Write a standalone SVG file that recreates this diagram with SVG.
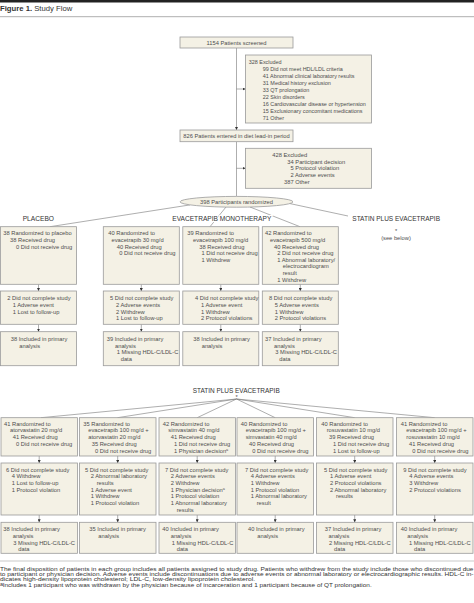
<svg xmlns="http://www.w3.org/2000/svg" width="474" height="603" viewBox="0 0 474 603">
<style>
.box{fill:#f4f1e5;stroke:#9a9a9a;stroke-width:0.8}
.t{font-family:"Liberation Sans",Arial,sans-serif;font-size:5.75px;fill:#4d4d4d}
.s{font-size:5.45px}
.c{text-anchor:middle}
.hd{font-family:"Liberation Sans",Arial,sans-serif;font-size:6.5px;fill:#333}
.halo{stroke:#fff;stroke-width:2.2;paint-order:stroke}
.cap{font-family:"Liberation Sans",Arial,sans-serif;font-size:5.4px;fill:#333}
.conn line{stroke:#777;stroke-width:0.6}
.sup{font-size:3.8px}
</style>
<defs>
<marker id="ar" viewBox="0 0 6 6" markerWidth="3" markerHeight="3" refX="6" refY="3" orient="auto" markerUnits="userSpaceOnUse">
<path d="M0,0 L6,3 L0,6 z" fill="#333"/>
</marker>
</defs>
<rect x="0" y="0" width="474" height="2.5" fill="#222"/>
<text x="0" y="11.2" font-family="'Liberation Sans',Arial,sans-serif" font-size="7.7" fill="#333"><tspan font-weight="bold">Figure 1.</tspan> Study Flow</text>
<line x1="0" y1="16.7" x2="474" y2="16.7" stroke="#999" stroke-width="0.8"/>

<g class="conn">
<line x1="236.5" y1="48" x2="236.5" y2="130" marker-end="url(#ar)"/>
<line x1="236.5" y1="89" x2="245.5" y2="89" marker-end="url(#ar)"/>
<line x1="236.5" y1="141.7" x2="236.5" y2="196.3"/>
<line x1="236.5" y1="168.3" x2="245.5" y2="168.3" marker-end="url(#ar)"/>
<line x1="190" y1="204.9" x2="50" y2="226.7"/>
<line x1="226" y1="207" x2="210" y2="226.7"/>
<line x1="250" y1="207" x2="300" y2="226.7"/>
<line x1="290" y1="203.6" x2="348" y2="216"/>
<line x1="38.5" y1="284.3" x2="38.5" y2="291" marker-end="url(#ar)"/>
<line x1="141.3" y1="284.3" x2="141.3" y2="291" marker-end="url(#ar)"/>
<line x1="220.8" y1="284.3" x2="220.8" y2="291" marker-end="url(#ar)"/>
<line x1="300.3" y1="284.3" x2="300.3" y2="291" marker-end="url(#ar)"/>
<line x1="38.5" y1="324.3" x2="38.5" y2="331.7" marker-end="url(#ar)"/>
<line x1="141.3" y1="324.3" x2="141.3" y2="331.7" marker-end="url(#ar)"/>
<line x1="220.8" y1="324.3" x2="220.8" y2="331.7" marker-end="url(#ar)"/>
<line x1="300.3" y1="324.3" x2="300.3" y2="331.7" marker-end="url(#ar)"/>
<line x1="236.5" y1="399" x2="41" y2="417.7"/>
<line x1="236.5" y1="399" x2="117.5" y2="417.7"/>
<line x1="236.5" y1="399" x2="197.2" y2="417.7"/>
<line x1="236.5" y1="399" x2="275.2" y2="417.7"/>
<line x1="236.5" y1="399" x2="354.7" y2="417.7"/>
<line x1="236.5" y1="399" x2="434.7" y2="417.7"/>
<line x1="39.2" y1="456" x2="39.2" y2="463" marker-end="url(#ar)"/>
<line x1="117.7" y1="456" x2="117.7" y2="463" marker-end="url(#ar)"/>
<line x1="197.2" y1="456" x2="197.2" y2="463" marker-end="url(#ar)"/>
<line x1="275.2" y1="456" x2="275.2" y2="463" marker-end="url(#ar)"/>
<line x1="354.7" y1="456" x2="354.7" y2="463" marker-end="url(#ar)"/>
<line x1="434.7" y1="456" x2="434.7" y2="463" marker-end="url(#ar)"/>
<line x1="39.2" y1="515" x2="39.2" y2="522.3" marker-end="url(#ar)"/>
<line x1="117.7" y1="515" x2="117.7" y2="522.3" marker-end="url(#ar)"/>
<line x1="197.2" y1="515" x2="197.2" y2="522.3" marker-end="url(#ar)"/>
<line x1="275.2" y1="515" x2="275.2" y2="522.3" marker-end="url(#ar)"/>
<line x1="354.7" y1="515" x2="354.7" y2="522.3" marker-end="url(#ar)"/>
<line x1="434.7" y1="515" x2="434.7" y2="522.3" marker-end="url(#ar)"/>
</g>

<g id="screened">
<rect class="box" x="180" y="37" width="113" height="11"/>
<text class="t c" x="236.5" y="44.6">1154 Patients screened</text>
</g>
<g id="excluded1">
<rect class="box" x="245.5" y="55" width="126" height="68"/>
<text class="t s" x="248.7" y="63.5">328 Excluded</text>
<text class="t s" x="262.8" y="70.5">99 Did not meet HDL/LDL criteria</text>
<text class="t s" x="262.8" y="77.5">41 Abnormal clinical laboratory results</text>
<text class="t s" x="262.8" y="84.5">31 Medical history exclusion</text>
<text class="t s" x="262.8" y="91.5">33 QT prolongation</text>
<text class="t s" x="262.8" y="98.5">22 Skin disorders</text>
<text class="t s" x="262.8" y="105.5">16 Cardiovascular disease or hypertension</text>
<text class="t s" x="262.8" y="112.5">15 Exclusionary concomitant medications</text>
<text class="t s" x="262.8" y="119.5">71 Other</text>
</g>
<g id="leadin">
<rect class="box" x="180" y="130" width="113" height="11.7"/>
<text class="t c" x="236.5" y="138">826 Patients entered in diet lead-in period</text>
</g>
<g id="excluded2">
<rect class="box" x="245.5" y="148.3" width="126" height="40"/>
<text class="t" x="272.3" y="157">428 Excluded</text>
<text class="t" x="287.3" y="163.7">34 Participant decision</text>
<text class="t" x="290.5" y="170.3">5 Protocol violation</text>
<text class="t" x="290.5" y="177">2 Adverse events</text>
<text class="t" x="284" y="183.7">387 Other</text>
</g>
<g id="randomized">
<ellipse class="box" cx="236.5" cy="201.8" rx="56.5" ry="5.4"/>
<text class="t c" x="236.5" y="204">398 Participants randomized</text>
</g>

<g id="labels">
<text class="hd halo" x="22.7" y="220.6" textLength="31.3" lengthAdjust="spacingAndGlyphs">PLACEBO</text>
<text class="hd halo" x="172.3" y="220.6" textLength="99" lengthAdjust="spacingAndGlyphs">EVACETRAPIB MONOTHERAPY</text>
<text class="hd" x="352.3" y="220.6" textLength="87.7" lengthAdjust="spacingAndGlyphs">STATIN PLUS EVACETRAPIB</text>
<text class="t c" x="396" y="232.8" font-size="6">*</text>
<text class="t c" x="396" y="240.3">(see below)</text>
<text class="hd" x="192.7" y="393" textLength="87" lengthAdjust="spacingAndGlyphs">STATIN PLUS EVACETRAPIB</text>
<text class="t c" x="236.5" y="399.4" font-size="6">*</text>
</g>

<g id="placebo">
<rect class="box" x="0.5" y="226.7" width="76" height="57.6"/>
<text class="t" x="3.3" y="235.3">38 Randomized to placebo</text>
<text class="t" x="10" y="241.9">38 Received drug</text>
<text class="t" x="16" y="248.5">0 Did not receive drug</text>
</g>
<g id="evac30">
<rect class="box" x="103.3" y="226.7" width="76" height="57.6"/>
<text class="t" x="108.3" y="235.3">40 Randomized to</text>
<text class="t" x="111.5" y="241.9">evacetrapib 30 mg/d</text>
<text class="t" x="116.7" y="248.5">40 Received drug</text>
<text class="t" x="119.3" y="255.1">0 Did not receive drug</text>
</g>
<g id="evac100">
<rect class="box" x="182.8" y="226.7" width="76" height="57.6"/>
<text class="t" x="187.3" y="235.3">39 Randomized to</text>
<text class="t" x="193" y="241.9">evacetrapib 100 mg/d</text>
<text class="t" x="199.3" y="248.5">38 Received drug</text>
<text class="t" x="201.5" y="255.1">1 Did not receive drug</text>
<text class="t" x="201.5" y="261.7">1 Withdrew</text>
</g>
<g id="evac500">
<rect class="box" x="262.3" y="226.7" width="76" height="57.6"/>
<text class="t" x="265" y="235.3">42 Randomized to</text>
<text class="t" x="270" y="241.9">evacetrapib 500 mg/d</text>
<text class="t" x="274" y="248.5">40 Received drug</text>
<text class="t" x="277.3" y="255.1">2 Did not receive drug</text>
<text class="t" x="277.3" y="261.7">1 Abnormal laboratory/</text>
<text class="t" x="282.7" y="268.3">electrocardiogram</text>
<text class="t" x="282.7" y="274.9">result</text>
<text class="t" x="277.3" y="281.5">1 Withdrew</text>
</g>

<g id="placebo-complete">
<rect class="box" x="0.5" y="291" width="76" height="33.3"/>
<text class="t" x="7.3" y="300.3">2 Did not complete study</text>
<text class="t" x="12.7" y="307">1 Adverse event</text>
<text class="t" x="12.7" y="313.7">1 Lost to follow-up</text>
</g>
<g id="evac30-complete">
<rect class="box" x="103.3" y="291" width="76" height="33.3"/>
<text class="t" x="110" y="300.3">5 Did not complete study</text>
<text class="t" x="116" y="307">2 Adverse events</text>
<text class="t" x="116" y="313.7">2 Withdrew</text>
<text class="t" x="116" y="320.3">1 Lost to follow-up</text>
</g>
<g id="evac100-complete">
<rect class="box" x="182.8" y="291" width="76" height="33.3"/>
<text class="t" x="195" y="300.3">4 Did not complete study</text>
<text class="t" x="201" y="307">1 Adverse event</text>
<text class="t" x="201" y="313.7">1 Withdrew</text>
<text class="t" x="201" y="320.3">2 Protocol violations</text>
</g>
<g id="evac500-complete">
<rect class="box" x="262.3" y="291" width="76" height="33.3"/>
<text class="t" x="269" y="300.3">8 Did not complete study</text>
<text class="t" x="274.7" y="307">5 Adverse events</text>
<text class="t" x="274.7" y="313.7">1 Withdrew</text>
<text class="t" x="274.7" y="320.3">2 Protocol violations</text>
</g>

<g id="placebo-analysis">
<rect class="box" x="0.5" y="331.7" width="76" height="34"/>
<text class="t" x="10.7" y="341">38 Included in primary</text>
<text class="t" x="19.3" y="347.7">analysis</text>
</g>
<g id="evac30-analysis">
<rect class="box" x="103.3" y="331.7" width="76" height="34"/>
<text class="t" x="106.7" y="341">39 Included in primary</text>
<text class="t" x="115" y="347.7">analysis</text>
<text class="t" x="116.7" y="354.3">1 Missing HDL-C/LDL-C</text>
<text class="t" x="120.7" y="361">data</text>
</g>
<g id="evac100-analysis">
<rect class="box" x="182.8" y="331.7" width="76" height="34"/>
<text class="t" x="193.3" y="341">38 Included in primary</text>
<text class="t" x="201.7" y="347.7">analysis</text>
</g>
<g id="evac500-analysis">
<rect class="box" x="262.3" y="331.7" width="76" height="34"/>
<text class="t" x="265" y="341">37 Included in primary</text>
<text class="t" x="274" y="347.7">analysis</text>
<text class="t" x="275.3" y="354.3">3 Missing HDL-C/LDL-C</text>
<text class="t" x="279.3" y="361">data</text>
</g>

<g id="ator20">
<rect class="box" x="1" y="417.7" width="76.5" height="38.3"/>
<text class="t" x="4" y="425.7">41 Randomized to</text>
<text class="t" x="10" y="432.4">atorvastatin 20 mg/d</text>
<text class="t" x="12.7" y="439.1">41 Received drug</text>
<text class="t" x="16" y="445.8">0 Did not receive drug</text>
</g>
<g id="evac-ator">
<rect class="box" x="79.5" y="417.7" width="76.5" height="38.3"/>
<text class="t" x="83.3" y="425.7">35 Randomized to</text>
<text class="t" x="88.3" y="432.4">evacetrapib 100 mg/d +</text>
<text class="t" x="88.3" y="439.1">atorvastatin 20 mg/d</text>
<text class="t" x="91.7" y="445.8">35 Received drug</text>
<text class="t" x="95" y="452.5">0 Did not receive drug</text>
</g>
<g id="simva40">
<rect class="box" x="159" y="417.7" width="76.5" height="38.3"/>
<text class="t" x="162.7" y="425.7">42 Randomized to</text>
<text class="t" x="168.3" y="432.4">simvastatin 40 mg/d</text>
<text class="t" x="170.7" y="439.1">41 Received drug</text>
<text class="t" x="174" y="445.8">1 Did not receive drug</text>
<text class="t" x="174" y="452.5">1 Physician decision<tspan class="sup" dy="-2">a</tspan></text>
</g>
<g id="evac-simva">
<rect class="box" x="237" y="417.7" width="76.5" height="38.3"/>
<text class="t" x="240.7" y="425.7">40 Randomized to</text>
<text class="t" x="245.7" y="432.4">evacetrapib 100 mg/d +</text>
<text class="t" x="245.7" y="439.1">simvastatin 40 mg/d</text>
<text class="t" x="249" y="445.8">40 Received drug</text>
<text class="t" x="252.3" y="452.5">0 Did not receive drug</text>
</g>
<g id="rosu10">
<rect class="box" x="316.5" y="417.7" width="76.5" height="38.3"/>
<text class="t" x="321.3" y="425.7">40 Randomized to</text>
<text class="t" x="326.7" y="432.4">rosuvastatin 10 mg/d</text>
<text class="t" x="329" y="439.1">39 Received drug</text>
<text class="t" x="333" y="445.8">1 Did not receive drug</text>
<text class="t" x="333" y="452.5">1 Lost to follow-up</text>
</g>
<g id="evac-rosu">
<rect class="box" x="396.5" y="417.7" width="76.5" height="38.3"/>
<text class="t" x="400.7" y="425.7">41 Randomized to</text>
<text class="t" x="406.3" y="432.4">evacetrapib 100 mg/d +</text>
<text class="t" x="406.3" y="439.1">rosuvastatin 10 mg/d</text>
<text class="t" x="409" y="445.8">41 Received drug</text>
<text class="t" x="412.3" y="452.5">0 Did not receive drug</text>
</g>

<g id="ator20-complete">
<rect class="box" x="1" y="463" width="76.5" height="52"/>
<text class="t" x="6" y="471.5">6 Did not complete study</text>
<text class="t" x="11.7" y="478.2">4 Withdrew</text>
<text class="t" x="11.7" y="484.9">1 Lost to follow-up</text>
<text class="t" x="11.7" y="491.6">1 Protocol violation</text>
</g>
<g id="evac-ator-complete">
<rect class="box" x="79.5" y="463" width="76.5" height="52"/>
<text class="t" x="85" y="471.5">5 Did not complete study</text>
<text class="t" x="90.7" y="478.2">2 Abnormal laboratory</text>
<text class="t" x="96.7" y="484.9">results</text>
<text class="t" x="90.7" y="491.6">1 Adverse event</text>
<text class="t" x="90.7" y="498.3">1 Withdrew</text>
<text class="t" x="90.7" y="505">1 Protocol violation</text>
</g>
<g id="simva40-complete">
<rect class="box" x="159" y="463" width="76.5" height="52"/>
<text class="t" x="165" y="471.5">7 Did not complete study</text>
<text class="t" x="170.7" y="478.2">2 Adverse events</text>
<text class="t" x="170.7" y="484.9">2 Withdrew</text>
<text class="t" x="170.7" y="491.6">1 Physician decision<tspan class="sup" dy="-2">a</tspan></text>
<text class="t" x="170.7" y="498.3">1 Protocol violation</text>
<text class="t" x="170.7" y="505">1 Abnormal laboratory</text>
<text class="t" x="176.7" y="511.7">results</text>
</g>
<g id="evac-simva-complete">
<rect class="box" x="237" y="463" width="76.5" height="52"/>
<text class="t" x="245" y="471.5">7 Did not complete study</text>
<text class="t" x="250.7" y="478.2">4 Adverse events</text>
<text class="t" x="250.7" y="484.9">1 Withdrew</text>
<text class="t" x="250.7" y="491.6">1 Protocol violation</text>
<text class="t" x="250.7" y="498.3">1 Abnormal laboratory</text>
<text class="t" x="256.7" y="505">result</text>
</g>
<g id="rosu10-complete">
<rect class="box" x="316.5" y="463" width="76.5" height="52"/>
<text class="t" x="324" y="471.5">5 Did not complete study</text>
<text class="t" x="330" y="478.2">1 Adverse event</text>
<text class="t" x="330" y="484.9">2 Protocol violations</text>
<text class="t" x="330" y="491.6">2 Abnormal laboratory</text>
<text class="t" x="336" y="498.3">results</text>
</g>
<g id="evac-rosu-complete">
<rect class="box" x="396.5" y="463" width="76.5" height="52"/>
<text class="t" x="403.3" y="471.5">9 Did not complete study</text>
<text class="t" x="409.3" y="478.2">4 Adverse events</text>
<text class="t" x="409.3" y="484.9">3 Withdrew</text>
<text class="t" x="409.3" y="491.6">2 Protocol violations</text>
</g>

<g id="ator20-analysis">
<rect class="box" x="1" y="522.3" width="76.5" height="31"/>
<text class="t" x="3.3" y="531.3">38 Included in primary</text>
<text class="t" x="12.7" y="538">analysis</text>
<text class="t" x="13.3" y="544.7">3 Missing HDL-C/LDL-C</text>
<text class="t" x="18.3" y="551.3">data</text>
</g>
<g id="evac-ator-analysis">
<rect class="box" x="79.5" y="522.3" width="76.5" height="31"/>
<text class="t" x="89.3" y="531.3">35 Included in primary</text>
<text class="t" x="98.3" y="538">analysis</text>
</g>
<g id="simva40-analysis">
<rect class="box" x="159" y="522.3" width="76.5" height="31"/>
<text class="t" x="162.3" y="531.3">40 Included in primary</text>
<text class="t" x="170.7" y="538">analysis</text>
<text class="t" x="171.7" y="544.7">1 Missing HDL-C/LDL-C</text>
<text class="t" x="176.7" y="551.3">data</text>
</g>
<g id="evac-simva-analysis">
<rect class="box" x="237" y="522.3" width="76.5" height="31"/>
<text class="t" x="248" y="531.3">40 Included in primary</text>
<text class="t" x="257.3" y="538">analysis</text>
</g>
<g id="rosu10-analysis">
<rect class="box" x="316.5" y="522.3" width="76.5" height="31"/>
<text class="t" x="324.7" y="531.3">37 Included in primary</text>
<text class="t" x="328.5" y="538">analysis</text>
<text class="t" x="329" y="544.7">2 Missing HDL-C/LDL-C</text>
<text class="t" x="334" y="551.3">data</text>
</g>
<g id="evac-rosu-analysis">
<rect class="box" x="396.5" y="522.3" width="76.5" height="31"/>
<text class="t" x="400.7" y="531.3">40 Included in primary</text>
<text class="t" x="407.3" y="538">analysis</text>
<text class="t" x="409" y="544.7">1 Missing HDL-C/LDL-C</text>
<text class="t" x="414" y="551.3">data</text>
</g>

<line x1="0" y1="561" x2="474" y2="561" stroke="#bbb" stroke-width="0.8"/>
<text class="cap" x="0" y="570.6" textLength="473.5" lengthAdjust="spacingAndGlyphs">The final disposition of patients in each group includes all patients assigned to study drug. Patients who withdrew from the study include those who discontinued due</text>
<text class="cap" x="0" y="575.8" textLength="473.5" lengthAdjust="spacingAndGlyphs">to participant or physician decision. Adverse events include discontinuations due to adverse events or abnormal laboratory or electrocardiographic results. HDL-C in-</text>
<text class="cap" x="0" y="581" textLength="255" lengthAdjust="spacingAndGlyphs">dicates high-density lipoprotein cholesterol; LDL-C, low-density lipoprotein cholesterol.</text>
<text class="cap" x="0" y="585.6" font-size="3.4">a</text>
<text class="cap" x="2.7" y="587" textLength="369" lengthAdjust="spacingAndGlyphs">Includes 1 participant who was withdrawn by the physician because of incarceration and 1 participant because of QT prolongation.</text>
</svg>
